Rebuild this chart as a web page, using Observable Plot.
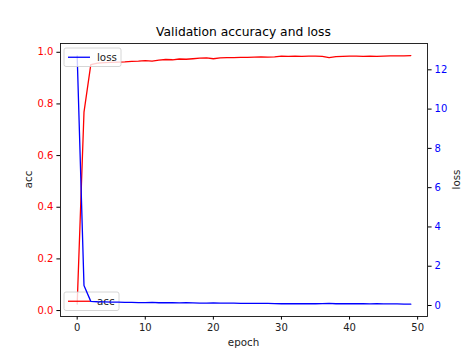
<!DOCTYPE html>
<html><head><meta charset="utf-8">
<script src="https://cdn.jsdelivr.net/npm/d3@7"></script>
<script src="https://cdn.jsdelivr.net/npm/@observablehq/plot@0.6"></script>
<style>
body{margin:0;background:#fff}
#chart{position:relative;width:474px;height:355px;font-family:"DejaVu Sans",sans-serif}
#chart svg{position:absolute;left:0;top:0}
</style>
</head><body><div id="chart"></div>
<script>
const epochs = [0,1,2,3,4,5,6,7,8,9,10,11,12,13,14,15,16,17,18,19,20,21,22,23,24,25,26,27,28,29,30,31,32,33,34,35,36,37,38,39,40,41,42,43,44,45,46,47,48,49];
const acc = [0.025,0.768,0.952,0.958,0.960,0.961,0.962,0.963,0.965,0.966,0.968,0.966,0.970,0.972,0.971,0.974,0.973,0.975,0.977,0.978,0.975,0.978,0.979,0.979,0.980,0.980,0.981,0.982,0.981,0.982,0.985,0.984,0.985,0.984,0.985,0.985,0.984,0.979,0.983,0.984,0.985,0.985,0.984,0.985,0.984,0.985,0.986,0.986,0.986,0.987];
const loss = [12.71,1.02,0.21,0.19,0.18,0.17,0.17,0.16,0.16,0.15,0.15,0.16,0.14,0.14,0.14,0.13,0.14,0.13,0.12,0.12,0.13,0.12,0.12,0.12,0.11,0.11,0.11,0.11,0.11,0.10,0.09,0.10,0.09,0.10,0.09,0.09,0.10,0.11,0.09,0.09,0.09,0.09,0.09,0.08,0.09,0.08,0.08,0.08,0.07,0.07];
const xTicks = [0,10,20,30,40,50];
const accTicks = [0.0,0.2,0.4,0.6,0.8,1.0];
const lossTicks = [0,2,4,6,8,10,12];
const titleText = "Validation accuracy and loss";
const xLabel = "epoch", accLabel = "acc", lossLabel = "loss";

const W = 474, H = 355, mL = 60, mR = 47, mT = 43, mB = 39;
const xDomain = [-2.45, 51.45];
const common = {width: W, height: H, marginLeft: mL, marginRight: mR, marginTop: mT, marginBottom: mB,
  style: {background: "transparent", fontFamily: "DejaVu Sans, sans-serif", fontSize: "10px", color: "#000"}};

const p1 = Plot.plot({...common,
  x: {domain: xDomain},
  y: {domain: [-0.023, 1.034]},
  marks: [
    Plot.axisX({ticks: xTicks, tickSize: 3.6, tickPadding: 3.5, tickFormat: d3.format("d"), label: null, stroke: "#000", fill: "#222"}),
    Plot.axisY({ticks: accTicks, tickSize: 3.6, tickPadding: 3.5, tickFormat: d3.format(".1f"), label: null, stroke: "#000", fill: "red"}),
    Plot.lineY(epochs, {x: d => d, y: (d, i) => acc[i], stroke: "red", strokeWidth: 1.3})
  ]
});

const p2 = Plot.plot({...common,
  x: {domain: xDomain, axis: null},
  y: {domain: [-0.56, 13.34], axis: null},
  marks: [
    Plot.axisY({anchor: "right", ticks: lossTicks, tickSize: 3.6, tickPadding: 3.5, tickFormat: d3.format("d"), label: null, stroke: "#000", fill: "blue"}),
    Plot.lineY(epochs, {x: d => d, y: (d, i) => loss[i], stroke: "blue", strokeWidth: 1.3}),
    Plot.frame({stroke: "#111", strokeWidth: 0.9})
  ]
});

const root = document.getElementById("chart");
root.appendChild(p1);
root.appendChild(p2);

function legend(svg, x, y, w, h, color, label) {
  const g = d3.select(svg).append("g");
  g.append("rect").attr("x", x).attr("y", y).attr("width", w).attr("height", h).attr("rx", 2)
    .attr("fill", "white").attr("fill-opacity", 0.8).attr("stroke", "#cccccc").attr("stroke-width", 0.8);
  g.append("line").attr("x1", x + 4).attr("x2", x + 26).attr("y1", y + h / 2).attr("y2", y + h / 2)
    .attr("stroke", color).attr("stroke-width", 1.3);
  g.append("text").attr("x", x + 33).attr("y", y + h / 2).attr("dy", "0.35em").attr("font-size", 10.3)
    .attr("text-anchor", "start").attr("fill", "#222").text(label);
}
legend(p1, 64, 292, 55, 18.5, "red", accLabel);
legend(p2, 64, 48, 57, 18.5, "blue", lossLabel);

const s2 = d3.select(p2);
s2.append("text").attr("x", (mL + W - mR) / 2).attr("y", 35.5).attr("text-anchor", "middle")
  .attr("font-size", 12.3).attr("fill", "#000").text(titleText);
s2.append("text").attr("x", (mL + W - mR) / 2).attr("y", 345.5).attr("text-anchor", "middle")
  .attr("font-size", 10.3).attr("fill", "#222").text(xLabel);
s2.append("text").attr("transform", `translate(28,${(mT + H - mB) / 2}) rotate(-90)`).attr("dy", "0.35em")
  .attr("text-anchor", "middle").attr("font-size", 10.3).attr("fill", "#222").text(accLabel);
s2.append("text").attr("transform", `translate(456,${(mT + H - mB) / 2}) rotate(-90)`).attr("dy", "0.35em")
  .attr("text-anchor", "middle").attr("font-size", 10.3).attr("fill", "#222").text(lossLabel);
</script>
</body></html>
